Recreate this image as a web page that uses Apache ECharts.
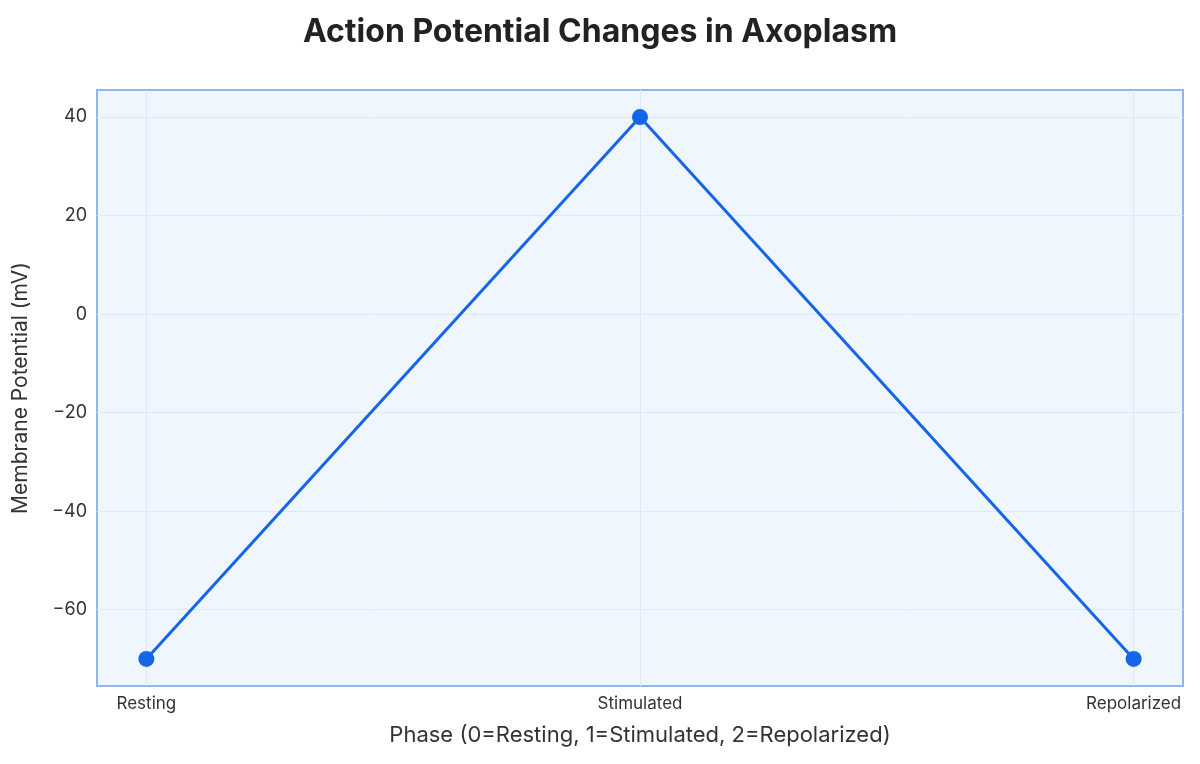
<!DOCTYPE html>
<html>
<head>
<meta charset="utf-8">
<script src="https://cdn.jsdelivr.net/npm/echarts@6/dist/echarts.min.js"></script>
<style>
  html, body { margin: 0; padding: 0; background: #fff; }
  #chart { width: 1200px; height: 764px; }
</style>
</head>
<body>
<div id="chart"></div>
<script>
const phaseNames = ['Resting', 'Stimulated', 'Repolarized'];
const phaseIndex = [0, 1, 2];
const potential = [-70, 40, -70];
const yTicks = [-60, -40, -20, 0, 20, 40];

const chart = echarts.init(document.getElementById('chart'));
const font = 'Inter, "Noto Sans", sans-serif';

const minus = v => (v < 0 ? '\u2212' + Math.abs(v) : String(v));

chart.setOption({
  animation: false,
  title: {
    text: 'Action Potential Changes in Axoplasm',
    left: 'center',
    top: 11,
    textStyle: { fontFamily: font, fontSize: 32, fontWeight: 'bold', color: '#222' }
  },
  grid: {
    left: 97, right: 17, top: 90, bottom: 78,
    show: true,
    backgroundColor: '#f0f6fe',
    borderColor: '#8fb6f0',
    borderWidth: 2
  },
  xAxis: {
    type: 'value',
    min: -0.1,
    max: 2.1,
    name: 'Phase (0=Resting, 1=Stimulated, 2=Repolarized)',
    nameLocation: 'middle',
    nameGap: 38,
    nameTextStyle: { fontFamily: font, fontSize: 22, color: '#333' },
    axisLine: { show: false },
    axisTick: { show: false, customValues: phaseIndex },
    axisLabel: {
      customValues: phaseIndex,
      fontFamily: font, fontSize: 17, color: '#333', margin: 9,
      formatter: v => phaseNames[Math.round(v)]
    },
    splitLine: { show: true, lineStyle: { color: '#dde8f8', width: 1 } }
  },
  yAxis: {
    type: 'value',
    min: -75.5,
    max: 45.5,
    name: 'Membrane Potential (mV)',
    nameLocation: 'middle',
    nameGap: 66,
    nameTextStyle: { fontFamily: font, fontSize: 21, color: '#333' },
    axisLine: { show: false },
    axisTick: { show: false, customValues: yTicks },
    axisLabel: {
      customValues: yTicks,
      fontFamily: font, fontSize: 18, color: '#333', margin: 10,
      formatter: v => minus(v)
    },
    splitLine: { show: true, lineStyle: { color: '#dde8f8', width: 1 } }
  },
  series: [{
    type: 'line',
    data: phaseIndex.map((x, i) => [x, potential[i]]),
    symbol: 'circle',
    symbolSize: 16,
    lineStyle: { color: '#1565e8', width: 3 },
    itemStyle: { color: '#1565e8' }
  }]
});
</script>
</body>
</html>
